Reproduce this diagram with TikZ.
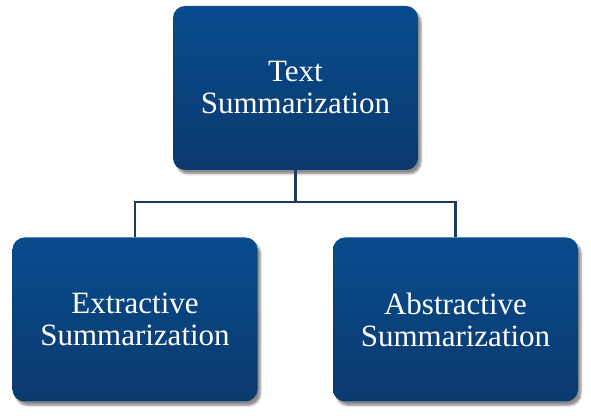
\documentclass[tikz,border=0pt]{standalone}
\usepackage{fontspec}
\setmainfont{Liberation Serif}
\usepackage{tikz}
\usetikzlibrary{positioning,shadows.blur}

\definecolor{boxtop}{RGB}{8,76,142}
\definecolor{boxbottom}{RGB}{11,57,110}
\definecolor{linkblue}{RGB}{30,58,98}

\begin{document}
\begin{tikzpicture}[
  x=1pt, y=1pt,
  box/.style={rectangle, rounded corners=12pt, minimum width=245pt,
              minimum height=164pt, align=center, text=white,
              top color=boxtop, bottom color=boxbottom, draw=none,
              font=\fontsize{31}{32}\selectfont,
              blur shadow={shadow xshift=3pt, shadow yshift=-4pt,
                           shadow blur steps=6, shadow opacity=45}},
  link/.style={draw=linkblue, line width=2.2pt}
]
\useasboundingbox (0,0) rectangle (591,419);

% Top
\node[box] (text) at (295.5,331) {Text\\Summarization};

% Children
\node[box] (extr) at (135,99.5) {Extractive\\Summarization};
\node[box] (abstr) at (455.5,99.5) {Abstractive\\Summarization};

% Links
\coordinate (bus) at (295.5,217);
\draw[link] (text.south) -- (bus);
\draw[link] (bus) -| (extr.north);
\draw[link] (bus) -| (abstr.north);

\end{tikzpicture}
\end{document}
